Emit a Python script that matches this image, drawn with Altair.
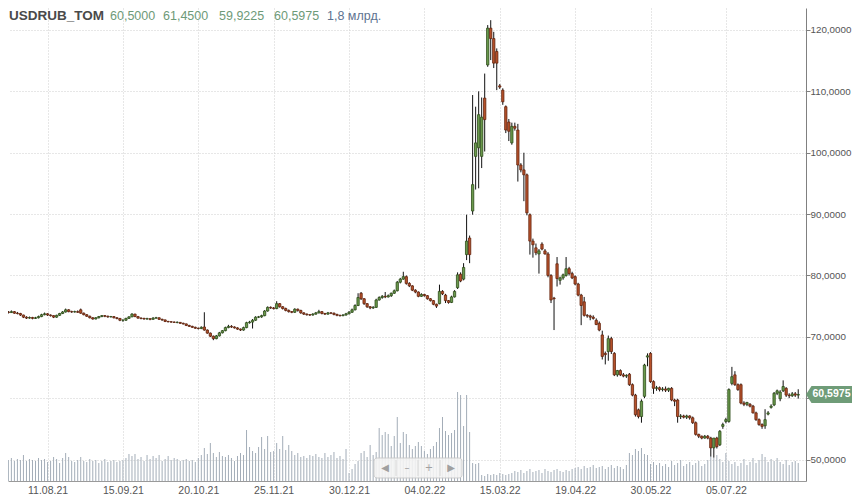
import altair as alt
import pandas as pd

TICKER = "USDRUB_TOM"
VOLUME_UNIT = "млрд."
DATE_LABELS = ["11.08.21", "15.09.21", "20.10.21", "25.11.21", "30.12.21",
               "04.02.22", "15.03.22", "19.04.22", "30.05.22", "05.07.22"]
TICK_INDEX = [14, 39, 64, 89, 114, 139, 164, 189, 214, 239]
PRICE_TICKS = [50, 60, 70, 80, 90, 100, 110, 120]

OPEN = [
    74.00, 74.05, 73.95, 74.10, 73.85, 73.80, 73.55, 73.20, 73.05, 73.15,
    73.00, 73.10, 73.30, 73.60, 73.75, 73.55, 73.45, 73.20, 73.50, 73.80,
    74.05, 74.40, 74.10, 74.05, 74.10, 74.40, 73.85, 73.60, 73.35, 73.10,
    72.90, 73.10, 73.30, 73.45, 73.35, 73.25, 73.30, 73.10, 73.00, 72.70,
    72.70, 73.00, 73.25, 73.70, 73.30, 73.05, 73.00, 72.90, 72.95, 72.85,
    73.05, 73.10, 72.85, 72.75, 72.50, 72.45, 72.40, 72.35, 72.35, 72.20,
    72.10, 71.85, 71.70, 71.55, 71.40, 71.35, 71.60, 71.10, 70.60, 70.10,
    69.70, 70.15, 70.65, 71.00, 71.50, 71.70, 71.60, 71.45, 71.25, 71.10,
    71.50, 72.30, 72.40, 72.70, 73.20, 73.25, 73.45, 74.20, 74.80, 74.70,
    74.60, 75.40, 74.90, 74.60, 74.30, 74.10, 74.00, 74.50, 74.30, 73.90,
    73.70, 73.60, 73.55, 73.70, 73.90, 74.10, 73.80, 73.70, 73.90, 73.85,
    73.65, 73.50, 73.45, 73.55, 73.75, 74.00, 74.40, 75.10, 77.10, 76.20,
    75.40, 74.90, 74.70, 74.80, 76.00, 76.40, 76.60, 76.50, 76.70, 77.10,
    77.50, 78.90, 79.40, 79.80, 78.70, 78.30, 77.60, 77.30, 76.60, 76.90,
    76.70, 76.20, 75.90, 75.30, 75.40, 77.40, 76.80, 75.90, 75.60, 76.50,
    78.00, 80.20, 79.40, 83.40, 86.10, 90.50, 99.40, 100.80, 99.40, 108.90,
    114.30, 120.30, 118.60, 116.50, 110.90, 110.20, 107.50, 105.00, 101.60, 104.30,
    103.70, 98.00, 97.20, 96.40, 89.90, 85.60, 84.50, 83.50, 85.10, 84.00,
    83.50, 80.00, 76.30, 81.90, 79.20, 79.60, 80.00, 81.10, 80.30, 79.80,
    78.60, 76.80, 75.70, 73.50, 73.40, 73.20, 72.70, 72.20, 70.30, 67.30,
    67.60, 69.70, 67.30, 63.80, 64.50, 63.80, 63.60, 63.90, 62.20, 60.50,
    58.10, 57.00, 60.30, 66.70, 67.30, 62.70, 61.60, 61.70, 61.40, 61.50,
    61.30, 61.60, 59.70, 59.70, 57.00, 57.10, 56.90, 57.10, 56.80, 56.00,
    54.10, 53.80, 53.50, 53.80, 53.50, 51.90, 53.50, 52.40, 55.40, 56.20,
    56.20, 62.40, 63.80, 62.20, 62.20, 59.20, 59.00, 59.00, 58.70, 57.60,
    56.50, 55.70, 55.50, 57.40, 58.50, 58.90, 60.80, 59.90, 61.20, 61.60,
    60.50, 60.40, 60.70, 60.50,
]
HIGH = [
    74.25, 74.20, 74.30, 74.20, 74.05, 73.90, 73.60, 73.35, 73.30, 73.25,
    73.25, 73.45, 73.75, 73.95, 73.85, 73.65, 73.50, 73.60, 73.90, 74.20,
    74.60, 74.50, 74.25, 74.25, 74.30, 74.60, 73.95, 73.70, 73.45, 73.20,
    73.20, 73.40, 73.55, 73.55, 73.45, 73.40, 73.35, 73.20, 73.05, 72.85,
    73.10, 73.35, 73.85, 73.75, 73.40, 73.15, 73.10, 73.10, 73.00, 73.20,
    73.25, 73.15, 72.95, 72.80, 72.60, 72.55, 72.50, 72.50, 72.40, 72.30,
    72.15, 71.95, 71.80, 71.65, 71.50, 71.70, 74.00, 71.20, 70.70, 70.20,
    70.30, 70.80, 71.10, 71.65, 71.95, 71.90, 71.70, 71.55, 71.35, 71.65,
    72.45, 72.60, 72.90, 73.35, 73.40, 73.60, 74.35, 74.95, 74.95, 74.85,
    75.80, 75.50, 75.00, 74.75, 74.45, 74.20, 74.65, 74.60, 74.40, 74.00,
    73.80, 73.70, 73.85, 74.05, 74.40, 74.20, 73.90, 74.05, 74.00, 73.95,
    73.75, 73.60, 73.70, 73.90, 74.20, 74.60, 75.30, 77.10, 77.30, 76.30,
    75.50, 75.00, 75.00, 76.20, 76.60, 76.80, 77.30, 76.90, 77.20, 77.70,
    79.10, 79.60, 80.60, 80.00, 78.90, 78.40, 77.75, 77.40, 77.10, 77.00,
    76.80, 76.30, 76.00, 75.40, 78.50, 77.60, 77.00, 76.00, 76.70, 77.60,
    80.50, 80.50, 82.00, 89.90, 86.50, 109.40, 107.50, 110.00, 109.00, 112.90,
    120.80, 121.60, 119.70, 117.00, 111.20, 110.50, 107.70, 105.50, 104.90, 104.90,
    104.70, 98.30, 100.00, 96.60, 90.10, 86.00, 85.20, 84.30, 85.40, 84.30,
    83.80, 80.20, 76.50, 83.00, 79.80, 80.30, 83.00, 81.40, 80.60, 80.00,
    78.80, 77.00, 76.50, 73.70, 73.60, 73.50, 73.00, 72.50, 71.00, 67.60,
    70.20, 70.00, 67.50, 64.60, 64.70, 64.10, 63.90, 64.10, 62.40, 60.70,
    58.30, 59.80, 65.60, 67.30, 67.50, 62.90, 62.00, 61.90, 61.80, 61.90,
    61.70, 61.80, 59.90, 59.90, 57.40, 57.30, 57.30, 57.20, 57.00, 56.20,
    54.20, 53.90, 54.00, 54.00, 53.70, 53.50, 53.70, 54.80, 56.00, 56.80,
    61.60, 65.10, 64.40, 62.40, 62.40, 59.50, 59.40, 59.20, 58.90, 57.80,
    56.70, 55.90, 58.20, 57.90, 59.00, 61.00, 61.40, 61.30, 62.90, 61.80,
    60.80, 61.00, 61.00, 61.45,
]
LOW = [
    73.85, 73.80, 73.90, 73.75, 73.65, 73.40, 73.05, 72.90, 72.95, 72.85,
    72.90, 73.00, 73.20, 73.50, 73.40, 73.30, 73.05, 73.10, 73.40, 73.70,
    73.95, 74.00, 73.90, 73.95, 73.90, 73.75, 73.50, 73.25, 73.00, 72.80,
    72.85, 73.00, 73.20, 73.20, 73.10, 73.15, 73.00, 72.85, 72.55, 72.45,
    72.60, 72.90, 73.20, 73.20, 72.95, 72.85, 72.80, 72.80, 72.70, 72.80,
    72.95, 72.75, 72.60, 72.40, 72.35, 72.30, 72.25, 72.20, 72.10, 72.00,
    71.75, 71.60, 71.45, 71.30, 71.20, 71.25, 71.00, 70.50, 69.95, 69.45,
    69.60, 70.05, 70.55, 70.90, 71.40, 71.45, 71.35, 71.15, 70.95, 71.00,
    71.40, 72.15, 71.35, 72.60, 73.05, 73.10, 73.35, 74.10, 74.55, 74.45,
    74.50, 74.75, 74.45, 74.15, 73.95, 73.85, 73.90, 74.10, 73.75, 73.55,
    73.45, 73.40, 73.45, 73.60, 73.80, 73.65, 73.55, 73.60, 73.70, 73.50,
    73.35, 73.30, 73.35, 73.45, 73.65, 73.90, 74.30, 75.00, 76.00, 75.20,
    74.70, 74.50, 74.55, 74.70, 75.90, 76.20, 76.30, 76.40, 76.50, 77.00,
    77.40, 78.70, 79.30, 78.50, 78.10, 77.45, 77.10, 76.45, 76.50, 76.55,
    76.05, 75.75, 75.15, 74.70, 75.30, 76.80, 75.50, 75.40, 75.50, 76.40,
    77.80, 78.90, 79.20, 82.50, 82.00, 89.90, 94.00, 94.20, 97.50, 100.20,
    114.00, 115.10, 113.80, 110.20, 110.40, 107.80, 103.20, 101.90, 101.30, 103.60,
    95.30, 96.80, 92.10, 89.80, 83.40, 82.90, 83.30, 80.30, 84.10, 83.40,
    79.70, 75.50, 71.10, 78.20, 78.50, 79.30, 79.80, 80.00, 79.40, 78.40,
    76.60, 71.90, 73.30, 73.10, 72.70, 72.80, 71.90, 70.90, 66.30, 65.50,
    66.10, 67.20, 63.60, 63.50, 63.60, 63.40, 63.30, 62.00, 60.30, 57.00,
    56.70, 56.00, 60.00, 65.20, 62.50, 60.70, 61.20, 61.10, 61.10, 61.00,
    61.00, 59.50, 58.70, 56.00, 56.60, 56.70, 56.60, 56.50, 55.80, 53.90,
    53.50, 53.30, 53.40, 53.30, 50.50, 50.30, 51.80, 52.20, 55.00, 55.90,
    56.00, 62.10, 62.00, 61.20, 59.00, 58.70, 58.70, 58.50, 57.50, 56.30,
    55.50, 55.00, 55.00, 57.20, 58.30, 58.70, 60.50, 59.50, 61.00, 60.20,
    60.00, 60.20, 60.20, 59.9225,
]
CLOSE = [
    74.05, 73.95, 74.10, 73.85, 73.80, 73.55, 73.20, 73.05, 73.15, 73.00,
    73.10, 73.30, 73.60, 73.75, 73.55, 73.45, 73.20, 73.50, 73.80, 74.05,
    74.40, 74.10, 74.05, 74.10, 74.00, 73.85, 73.60, 73.35, 73.10, 72.90,
    73.10, 73.30, 73.45, 73.35, 73.25, 73.30, 73.10, 73.00, 72.70, 72.70,
    73.00, 73.25, 73.70, 73.30, 73.05, 73.00, 72.90, 72.95, 72.85, 73.05,
    73.10, 72.85, 72.75, 72.50, 72.45, 72.40, 72.35, 72.35, 72.20, 72.10,
    71.85, 71.70, 71.55, 71.40, 71.35, 71.55, 71.10, 70.60, 70.10, 69.70,
    70.15, 70.65, 71.00, 71.50, 71.70, 71.60, 71.45, 71.25, 71.10, 71.50,
    72.30, 72.40, 72.70, 73.20, 73.25, 73.45, 74.20, 74.80, 74.70, 74.60,
    75.40, 74.90, 74.60, 74.30, 74.10, 74.00, 74.50, 74.30, 73.90, 73.70,
    73.60, 73.55, 73.70, 73.90, 74.10, 73.80, 73.70, 73.90, 73.85, 73.65,
    73.50, 73.45, 73.55, 73.75, 74.00, 74.40, 75.10, 76.40, 76.20, 75.40,
    74.90, 74.70, 74.80, 76.00, 76.40, 76.60, 76.50, 76.70, 77.10, 77.50,
    78.90, 79.40, 79.80, 78.70, 78.30, 77.60, 77.30, 76.60, 76.90, 76.70,
    76.20, 75.90, 75.30, 75.00, 77.40, 77.00, 75.90, 75.60, 76.50, 77.40,
    80.10, 79.10, 81.30, 85.60, 83.40, 94.80, 101.60, 106.20, 105.80, 105.40,
    120.30, 118.60, 114.60, 114.60, 110.70, 108.30, 103.70, 103.50, 104.30, 104.00,
    98.00, 97.20, 96.40, 90.20, 85.60, 85.00, 83.70, 84.00, 84.30, 83.50,
    80.00, 76.00, 76.20, 79.50, 79.60, 80.10, 81.10, 80.30, 79.60, 78.60,
    76.80, 75.10, 73.50, 73.40, 73.20, 73.00, 72.00, 71.10, 66.80, 67.10,
    69.70, 67.60, 63.80, 64.50, 63.80, 63.60, 63.70, 62.20, 60.50, 57.30,
    57.00, 59.50, 65.40, 66.90, 62.70, 61.60, 61.70, 61.40, 61.50, 61.30,
    61.60, 59.70, 59.50, 57.00, 57.10, 56.90, 57.10, 56.80, 56.00, 54.10,
    53.80, 53.50, 53.80, 53.50, 51.90, 53.50, 52.10, 54.60, 55.70, 56.50,
    61.40, 63.50, 62.20, 61.40, 59.20, 59.00, 59.30, 58.70, 57.60, 56.50,
    55.70, 55.40, 56.50, 57.60, 58.70, 60.80, 61.20, 61.00, 61.90, 60.50,
    60.40, 60.70, 60.50, 60.5975,
]
VOLUME = [
    2.2, 2.1, 2.3, 2.0, 2.2, 2.1, 2.6, 2.0, 2.2, 2.1,
    2.0, 2.3, 2.1, 2.2, 1.9, 2.0, 2.4, 2.2, 1.8, 2.3,
    2.8, 2.4, 2.0, 1.9, 2.1, 2.4, 2.0, 1.9, 2.2, 2.0,
    2.1, 1.8, 2.0, 2.2, 1.9, 2.0, 2.1, 1.9, 2.0, 2.1,
    2.3, 2.7, 2.5, 2.7, 2.2, 2.4, 2.0, 2.6, 2.2, 2.5,
    2.3, 2.6, 2.0, 2.2, 2.5, 2.1, 2.3, 2.2, 2.0, 2.1,
    2.2, 2.0, 2.1, 1.9, 2.3, 2.6, 3.3, 2.7, 3.8, 2.8,
    2.4, 2.9, 2.5, 2.4, 2.6, 2.3, 2.0, 2.5, 2.8, 2.6,
    5.1, 3.4, 3.0, 2.8, 3.4, 4.4, 3.2, 4.5, 2.9, 3.0,
    3.8, 3.2, 4.5, 3.1, 3.6, 3.0, 2.6, 2.8, 2.4, 2.5,
    2.3, 2.6, 2.5, 2.7, 2.4, 2.3, 2.8, 2.4, 2.6, 2.9,
    2.3, 2.5, 2.2, 3.2, 0.8, 1.2, 1.7, 2.0, 2.8, 3.0,
    2.4, 3.6, 2.6, 2.9, 5.3, 4.6, 4.9, 4.7, 3.5, 4.5,
    6.4, 3.8, 4.9, 4.7, 3.6, 3.2, 3.5, 3.9, 3.5, 3.0,
    2.7, 3.2, 3.5, 3.9, 5.3, 6.4, 5.0, 4.6, 4.8, 5.1,
    8.9, 8.6, 5.5, 8.6, 4.9, 1.8, 1.7, 1.8, 0.6, 0.5,
    0.7, 0.6, 0.7, 0.6, 0.8, 0.7, 0.6, 0.7, 0.8, 1.0,
    0.9, 1.1, 0.8, 1.0, 1.2, 0.9, 1.0, 1.1, 0.8, 1.2,
    1.0, 0.9, 1.1, 1.2, 1.0, 0.9, 1.1, 1.0, 1.2, 1.3,
    1.4, 1.2, 1.5, 1.3, 1.4, 1.6, 1.3, 1.4, 1.5, 1.2,
    1.4, 1.6, 1.3, 1.5, 1.4, 1.2, 1.6, 2.8, 2.6, 3.2,
    3.0, 3.3, 2.7, 2.6, 1.7, 1.9, 1.6, 1.8, 1.5, 1.7,
    1.4, 2.0, 1.6, 1.8, 2.1, 1.5, 1.7, 1.9, 1.6, 1.8,
    2.0, 1.5, 1.7, 2.1, 2.5, 2.3, 2.6, 2.2, 1.9, 2.8,
    2.0, 1.7, 1.9, 1.5, 1.8, 2.2, 1.6, 1.9, 2.3, 1.8,
    2.1, 2.7, 2.4, 1.9, 2.2, 2.0, 2.3, 1.9, 1.7, 2.1,
    1.6, 1.9, 2.0, 1.8,
]

n = len(OPEN)
assert len(HIGH) == n and len(LOW) == n and len(CLOSE) == n and len(VOLUME) == n, \
    (len(OPEN), len(HIGH), len(LOW), len(CLOSE), len(VOLUME))

df = pd.DataFrame({
    "i": list(range(n)), "open": OPEN, "high": HIGH, "low": LOW,
    "close": CLOSE, "vol": VOLUME,
})
df["dir"] = ["up" if c >= o else "down" for o, c in zip(OPEN, CLOSE)]


def ru(v, d=4):
    return f"{v:.{d}f}".replace(".", ",")


last = df.iloc[[-1]].copy()
last["label"] = ru(CLOSE[-1])

FONT = "Liberation Sans"
GREEN, GREEN_EDGE = "#6a9a4c", "#2f4c1b"
RED, RED_EDGE = "#b8522a", "#63250f"

x_scale = alt.Scale(domain=[2.535, 263.92], nice=False, zero=False)
labels_js = "[" + ",".join(f"'{s}'" for s in DATE_LABELS) + "]"
idx_js = "[" + ",".join(str(v) for v in TICK_INDEX) + "]"
x_axis = alt.Axis(values=TICK_INDEX, labelExpr=f"{labels_js}[indexof({idx_js}, datum.value)]",
                  grid=True, gridDash=[1, 2], gridColor="#cfcfcf", ticks=False,
                  domainColor="#9a9a9a", labelColor="#555555", labelFontSize=10.5,
                  labelFont=FONT, labelPadding=4, title=None, labelFlush=False)
X = alt.X("i:Q", scale=x_scale, axis=x_axis)

price_scale = alt.Scale(domain=[46.50, 123.585], nice=False, zero=False)
y_axis = alt.Axis(orient="right", values=PRICE_TICKS,
                  labelExpr="datum.value == 60 ? '' : replace(format(datum.value, '.4f'), '.', ',')",
                  grid=True, gridDash=[1, 2], gridColor="#cfcfcf",
                  domainColor="#808080", tickColor="#808080", tickSize=4,
                  labelPadding=0, labelFontSize=9.8, labelColor="#555555",
                  labelFont=FONT, title=None)

base = alt.Chart(df)

volume = base.mark_rule(clip=True, color="#a3adb8", strokeWidth=1).encode(
    x=X,
    y=alt.Y("vol:Q", scale=alt.Scale(domain=[0, 47.3], nice=False), axis=None),
    y2=alt.datum(0),
)

wick = base.mark_rule(clip=True, color="#111111", strokeWidth=1).encode(
    x=X, y=alt.Y("low:Q", scale=price_scale, axis=y_axis), y2="high:Q",
)

body = base.mark_bar(clip=True, size=2.3, strokeWidth=0.8).encode(
    x=X, y=alt.Y("open:Q", scale=price_scale, axis=y_axis), y2="close:Q",
    color=alt.Color("dir:N", scale=alt.Scale(domain=["up", "down"], range=[GREEN, RED]), legend=None),
    stroke=alt.Stroke("dir:N", scale=alt.Scale(domain=["up", "down"], range=[GREEN_EDGE, RED_EDGE]), legend=None),
)

box_path = "M-1,0L-0.76,-0.37L1,-0.37L1,0.37L-0.76,0.37Z"
price_box = alt.Chart(last).mark_point(shape=box_path, size=46 * 46, filled=True,
                                       fill="#6f9c78", opacity=1, strokeWidth=0).encode(
    x=alt.value(821), y=alt.Y("close:Q", scale=price_scale, axis=y_axis),
)
price_text = alt.Chart(last).mark_text(color="white", fontWeight="bold", fontSize=10.5,
                                       font=FONT, align="center", baseline="middle").encode(
    x=alt.value(823.5), y=alt.Y("close:Q", scale=price_scale, axis=y_axis), text="label:N",
)

price_layer = alt.layer(wick, body, price_box, price_text)

# header line
one = pd.DataFrame({"k": [0]})
HEADER_Y = 12
header = [
    alt.Chart(one).mark_text(text=TICKER, font=FONT, fontSize=13.5, fontWeight="bold",
                             color="#4a4a4a", align="left", baseline="alphabetic").encode(
        x=alt.value(1), y=alt.value(HEADER_Y)),
]
hx = [102, 155, 211, 266]
for v, xx in zip([OPEN[-1], HIGH[-1], LOW[-1], CLOSE[-1]], hx):
    header.append(alt.Chart(one).mark_text(text=ru(v), font=FONT, fontSize=12.5,
                                           color="#6e9a78", align="left", baseline="alphabetic").encode(
        x=alt.value(xx), y=alt.value(HEADER_Y)))
header.append(alt.Chart(one).mark_text(text=f"{ru(VOLUME[-1], 1)} {VOLUME_UNIT}", font=FONT, fontSize=12.5,
                                       color="#5d7290", align="left", baseline="alphabetic").encode(
    x=alt.value(319), y=alt.value(HEADER_Y)))

# navigation widget
nav = [
    alt.Chart(one).mark_rect(fill="#f4f4f4", opacity=0.9, stroke="#c9c9c9", strokeWidth=1,
                             cornerRadius=3).encode(
        x=alt.value(366), x2=alt.value(454), y=alt.value(450), y2=alt.value(470)),
]
for sx in [388, 410, 432]:
    nav.append(alt.Chart(one).mark_rule(color="#d8d8d8").encode(
        x=alt.value(sx), y=alt.value(452), y2=alt.value(468)))
for g, gx in zip(["◀", "–", "+", "▶"], [377, 399, 421, 443]):
    nav.append(alt.Chart(one).mark_text(text=g, font="DejaVu Sans", fontSize=10, color="#a0a0a0",
                                        align="center", baseline="middle").encode(
        x=alt.value(gx), y=alt.value(460)))

chart = alt.layer(volume, price_layer, *header, *nav).resolve_scale(y="independent").properties(
    width=798, height=473,
    padding={"left": 0, "top": 0, "right": 46, "bottom": 18},
    autosize=alt.AutoSizeParams(type="none"),
    background="white",
).configure_view(stroke=None)

chart.save("out.html", embed_options={"renderer": "svg", "actions": False})
